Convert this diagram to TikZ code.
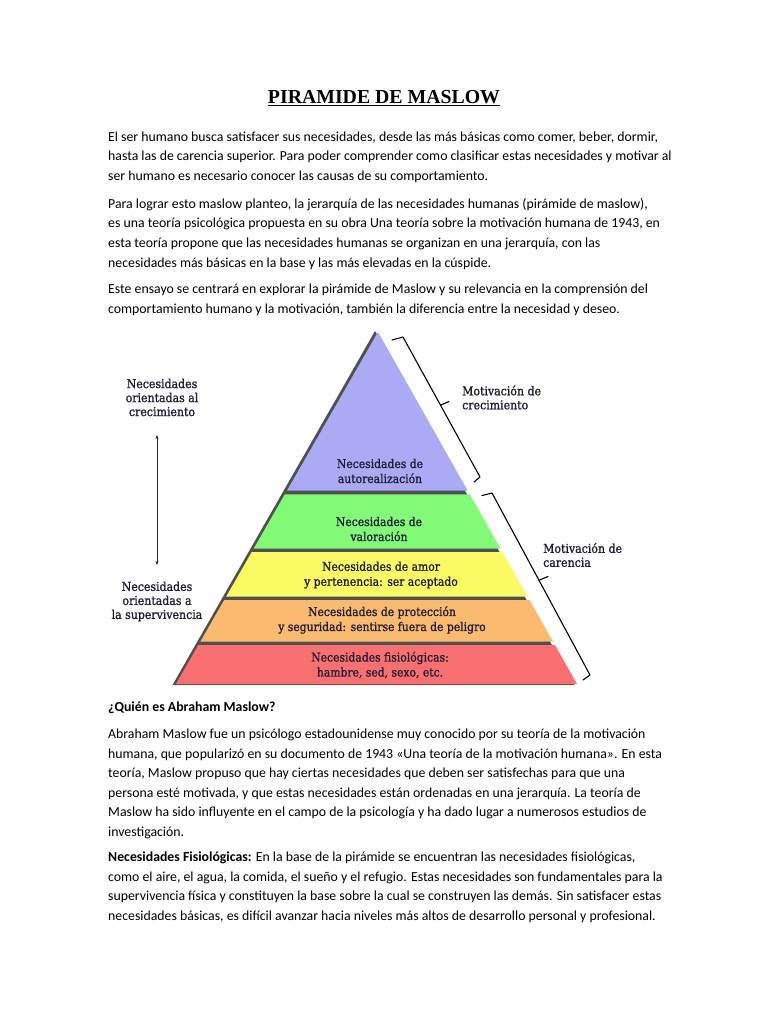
\documentclass[tikz,border=0pt]{standalone}
\usepackage{fontspec}
\setmainfont{Carlito}
\newfontfamily\titlefont{Liberation Serif}
\newfontfamily\slab{DejaVu Serif Condensed}[FakeBold=1.2]
\usetikzlibrary{calc,arrows.meta}
\definecolor{lvpurple}{RGB}{170,170,245}
\definecolor{lvgreen}{RGB}{130,250,120}
\definecolor{lvyellow}{RGB}{250,250,100}
\definecolor{lvorange}{RGB}{250,186,112}
\definecolor{lvred}{RGB}{250,112,112}
\definecolor{lvshadow}{RGB}{80,80,80}
\definecolor{lvtext}{RGB}{30,30,55}
\begin{document}
\begin{tikzpicture}[x=1pt,y=-1pt,
  body/.style={anchor=base west, inner sep=0pt, font=\fontsize{13.8}{16}\selectfont, text=black},
  layertext/.style={align=center, inner sep=0pt, font=\slab\fontsize{12}{15}\selectfont, text=lvtext},
  sidetext/.style={inner sep=0pt, font=\slab\fontsize{12.2}{14}\selectfont, text=lvtext},
  bracestyle/.style={draw=black, line width=1.1pt, line join=round, line cap=round},
  layer/.style={draw=none}]
\useasboundingbox[fill=white] (0,0) rectangle (768,1024);

% Title
\node[anchor=base, inner sep=0pt, font=\titlefont\bfseries\fontsize{19.8}{22}\selectfont] (title) at (384,104) {\underline{PIRAMIDE DE MASLOW}};

% Paragraph 1
\node[body] (p1a) at (108,141.5) {El ser humano busca satisfacer sus necesidades, desde las más básicas como comer, beber, dormir,};
\node[body] (p1b) at (108,161) {hasta las de carencia superior. Para poder comprender como clasificar estas necesidades y motivar al};
\node[body] (p1c) at (108,180.5) {ser humano es necesario conocer las causas de su comportamiento.};
% Paragraph 2
\node[body] (p2a) at (108,208.5) {Para lograr esto maslow planteo, la jerarquía de las necesidades humanas (pirámide de maslow),};
\node[body] (p2b) at (108,228) {es una teoría psicológica propuesta en su obra Una teoría sobre la motivación humana de 1943, en};
\node[body] (p2c) at (108,247.5) {esta teoría propone que las necesidades humanas se organizan en una jerarquía, con las};
\node[body] (p2d) at (108,267) {necesidades más básicas en la base y las más elevadas en la cúspide.};
% Paragraph 3
\node[body] (p3a) at (108,293.5) {Este ensayo se centrará en explorar la pirámide de Maslow y su relevancia en la comprensión del};
\node[body] (p3b) at (108,313) {comportamiento humano y la motivación, también la diferencia entre la necesidad y deseo.};

% Pyramid
\coordinate (A) at (378,332);
\coordinate (BL) at (176,684);
\coordinate (BR) at (577,684);
\fill[lvshadow] (375,331) -- (172.5,685) -- (574.5,685) -- cycle;
\fill[lvpurple] (A) -- ($(A)!0.4503!(BL)$) -- ($(A)!0.4503!(BR)$) -- cycle;
\fill[lvgreen] ($(A)!0.4616!(BL)$) -- ($(A)!0.6151!(BL)$) -- ($(A)!0.6151!(BR)$) -- ($(A)!0.4616!(BR)$) -- cycle;
\fill[lvyellow] ($(A)!0.625!(BL)$) -- ($(A)!0.7514!(BL)$) -- ($(A)!0.7514!(BR)$) -- ($(A)!0.625!(BR)$) -- cycle;
\fill[lvorange] ($(A)!0.7614!(BL)$) -- ($(A)!0.8793!(BL)$) -- ($(A)!0.8793!(BR)$) -- ($(A)!0.7614!(BR)$) -- cycle;
\fill[lvred] ($(A)!0.8892!(BL)$) -- (BL) -- (BR) -- ($(A)!0.8892!(BR)$) -- cycle;

\node[layertext] (l5) at (380,471) {Necesidades de\\ autorealización};
\node[layertext] (l4) at (379,529) {Necesidades de\\valoración};
\node[layertext] (l3) at (381,575) {Necesidades de amor\\ y pertenencia: ser aceptado};
\node[layertext] (l2) at (382,620) {Necesidades de protección\\ y seguridad: sentirse fuera de peligro};
\node[layertext] (l1) at (380,665) {Necesidades fisiológicas:\\ hambre, sed, sexo, etc.};

% Left labels and arrow
\node[sidetext, align=center] (grow) at (162,397.5) {Necesidades\\orientadas al\\ crecimiento};
\node[sidetext, align=center] (surv) at (157,601.5) {Necesidades\\orientadas a\\la supervivencia};
\coordinate (a1) at (157,435);
\coordinate (a2) at (157,565);
\draw[{Stealth[length=4pt,width=3pt]}-{Stealth[length=4pt,width=3pt]}, line width=0.9pt, draw=black!85] (a1) -- (a2);

% Right braces
\coordinate (b1s) at (392,340);
\coordinate (b1t) at (403,337);
\coordinate (b1m) at (441,405);
\coordinate (b1p) at (449,401.5);
\coordinate (b1b) at (480,477);
\coordinate (b1e) at (474,482);
\draw[bracestyle] (b1s) -- (b1t) -- (b1b) -- (b1e);
\draw[bracestyle] (b1m) -- (b1p);
\coordinate (b2s) at (482,495.5);
\coordinate (b2t) at (492,493);
\coordinate (b2m) at (539.5,580);
\coordinate (b2p) at (548,576.5);
\coordinate (b2b) at (590,675);
\coordinate (b2e) at (583,680);
\draw[bracestyle] (b2s) -- (b2t) -- (b2b) -- (b2e);
\draw[bracestyle] (b2m) -- (b2p);
\node[sidetext, align=left, anchor=west] (mgrow) at (462,397.5) {Motivación de\\crecimiento};
\node[sidetext, align=left, anchor=west] (mcar) at (543,555) {Motivación de\\carencia};

% Lower text
\node[body, font=\bfseries\fontsize{13.8}{16}\selectfont] (q) at (108,711.5) {¿Quién es Abraham Maslow?};
\node[body] (q1) at (108,738.5) {Abraham Maslow fue un psicólogo estadounidense muy conocido por su teoría de la motivación};
\node[body] (q2) at (108,758) {humana, que popularizó en su documento de 1943 «Una teoría de la motivación humana». En esta};
\node[body] (q3) at (108,777.5) {teoría, Maslow propuso que hay ciertas necesidades que deben ser satisfechas para que una};
\node[body] (q4) at (108,797) {persona esté motivada, y que estas necesidades están ordenadas en una jerarquía. La teoría de};
\node[body] (q5) at (108,816.5) {Maslow ha sido influyente en el campo de la psicología y ha dado lugar a numerosos estudios de};
\node[body] (q6) at (108,836) {investigación.};
\node[body] (f1) at (108,861.5) {\textbf{Necesidades Fisiológicas:} En la base de la pirámide se encuentran las necesidades fisiológicas,};
\node[body] (f2) at (108,881) {como el aire, el agua, la comida, el sueño y el refugio. Estas necesidades son fundamentales para la};
\node[body] (f3) at (108,900.5) {supervivencia física y constituyen la base sobre la cual se construyen las demás. Sin satisfacer estas};
\node[body] (f4) at (108,920) {necesidades básicas, es difícil avanzar hacia niveles más altos de desarrollo personal y profesional.};
\end{tikzpicture}
\end{document}
